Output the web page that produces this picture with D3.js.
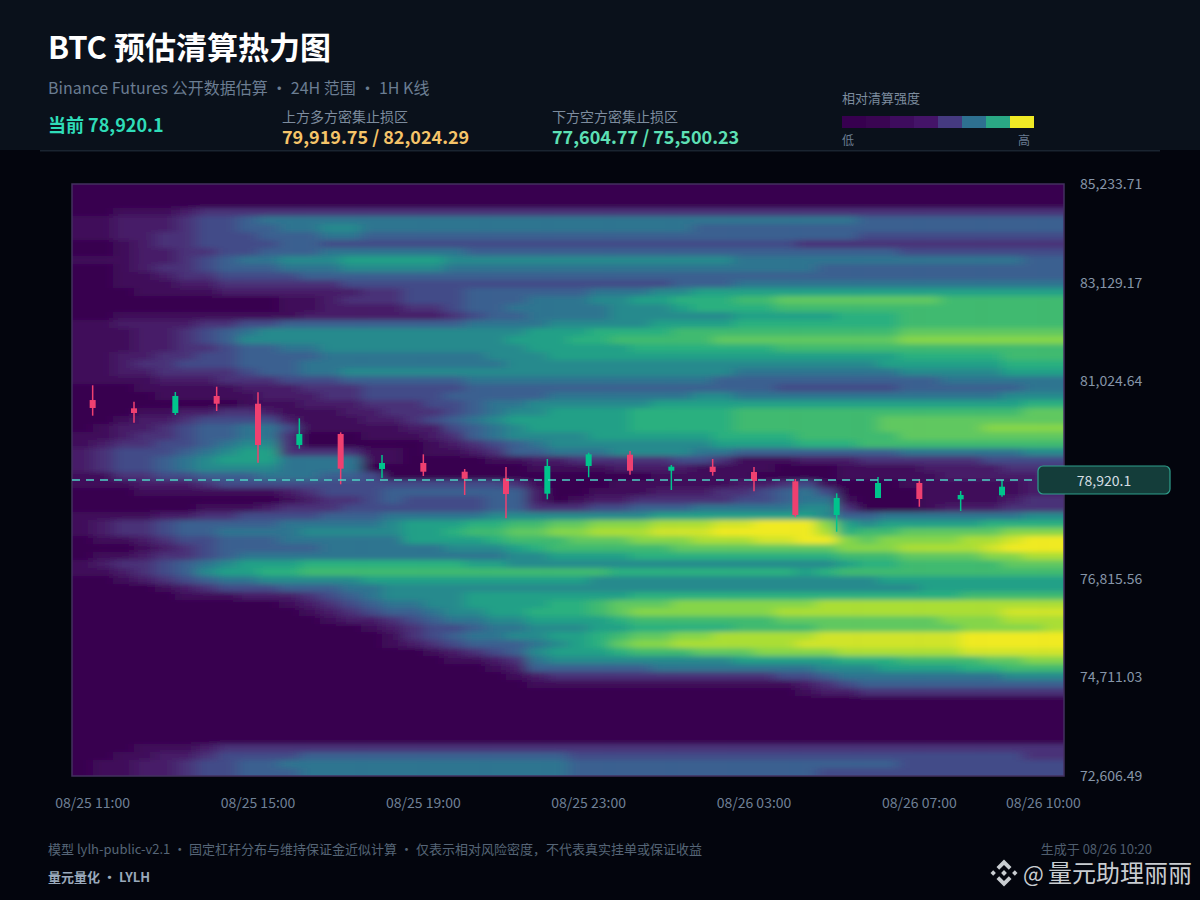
<!DOCTYPE html>
<html>
<head>
<meta charset="utf-8">
<title>BTC 预估清算热力图</title>
<script src="https://cdnjs.cloudflare.com/ajax/libs/d3/7.8.5/d3.min.js"></script>
<style>
  html, body { margin: 0; padding: 0; background: #03050d; }
  svg { display: block; }
  text { font-family: "Noto Sans CJK SC", "Noto Sans", sans-serif; }
</style>
</head>
<body>
<div id="chart"></div>
<script>
// hourly candles
const hours = ["08/25 11:00","08/25 12:00","08/25 13:00","08/25 14:00","08/25 15:00","08/25 16:00","08/25 17:00","08/25 18:00",
  "08/25 19:00","08/25 20:00","08/25 21:00","08/25 22:00","08/25 23:00","08/26 00:00","08/26 01:00","08/26 02:00",
  "08/26 03:00","08/26 04:00","08/26 05:00","08/26 06:00","08/26 07:00","08/26 08:00","08/26 09:00","08/26 10:00"];
const hourTicks = ["08/25 11:00","08/25 15:00","08/25 19:00","08/25 23:00","08/26 03:00","08/26 07:00","08/26 10:00"];
const opens  = [80626,80449,80349,80712,80547,79667,79901,79155,79283,79097,78956,78628,79219,79460,79118,79204,79091,78892,78173,78536,78856,78508,78594,78777];
const closes = [80456,80349,80712,80547,79667,79901,79161,79283,79097,78948,78621,79219,79468,79118,79204,79091,78899,78173,78536,78856,78515,78600,78777,78920];
const highs  = [80940,80590,80797,80910,80791,80236,79937,79453,79468,79155,79197,79368,79502,79539,79240,79368,79197,78941,78636,78984,78941,78685,78920,78960];
const lows   = [80292,80142,80306,80392,79289,79588,78828,78963,79005,78600,78103,78508,78978,79033,78707,79012,78679,78131,77817,78536,78350,78259,78564,78740];

// the 78,920.10 tick sits under the current price tag, so it is left out
const priceTicks = [85233.71, 83129.17, 81024.64, 76815.56, 74711.03, 72606.49];
const priceTop = 85233.71, priceBottom = 72606.49;
const currentPrice = 78920.1;

// relative intensity, hex digit per cell, one string per price row (top to bottom), 48 half hour columns
const heatRows = [
"00000000 00000000 00000000 00000000 00000000 00000000",
"00000000 00000000 00000000 00000000 00000000 00000000",
"00000000 00000000 00000000 00000000 00000000 00000000",
"00111233 33333333 33333333 33333333 33333333 33333333",
"11222344 56666666 66666666 66666666 66666655 55555555",
"11222344 55667766 66666666 66666655 55555555 55555555",
"11223344 45556655 55555555 55555555 55555544 44444444",
"00123344 44554444 44444444 44444444 44433333 33333333",
"00122334 45556666 66655555 55555555 55555555 44444444",
"11122345 66777888 88777777 77777777 66666666 66666655",
"00123345 55666777 77666666 66666666 66665555 55555555",
"00112334 44455555 55555555 55555555 55555555 55555555",
"00111223 33333444 44444444 44444555 66666666 66666666",
"00011112 22222233 44455555 56667788 88888888 88888888",
"00000000 00112333 44455566 67788999 aabbbbbb bbaaaaaa",
"00000000 00112222 33455666 66777899 99aaaaaa aaaaaaaa",
"00111111 11122222 22345566 66777777 88888999 aaaaaaaa",
"11222233 44555555 55566667 77778888 99999999 aaaaaaaa",
"11122345 67777777 77777788 89999aaa aaaaaaaa bbbbbbbb",
"11122345 77777777 77777888 99aaaaab bbbbbbbb cccccccc",
"11122334 55667777 77777788 88899999 99aaaaaa aaaaaaaa",
"11223344 55556666 66667778 88888888 88888888 99999aaa",
"11233444 55566666 66666777 77777777 77777778 88888999",
"11223333 45566777 77777777 77777777 66666666 77777888",
"11112223 33444555 55566666 66666665 55555555 55666666",
"00011111 22233344 44455555 55555555 55444444 55555566",
"00001111 12223344 44555556 66666677 66666666 66666777",
"00000000 11122233 34456677 77778888 88888888 88888899",
"00011223 32111223 33456778 88899999 aaaaaaaa aaaaaabb",
"00122344 44211122 34567888 88899999 aaaaaaab bbbbbbbb",
"01223455 66411111 22456788 88899999 aaaaaaab bbbbcccc",
"11233455 66300011 12356777 78888889 999aaaaa bbbbbbbb",
"12334456 77300000 01234567 77777778 888999aa aaaaaaaa",
"23444567 88333311 01123556 66777766 55555555 66666677",
"23445678 88666611 00001122 33333443 11122233 33334444",
"23445677 77666600 00000011 11222211 11000111 12222333",
"11334455 56665540 00000000 00001111 10000111 11222223",
"11122234 44444444 44444310 00111111 22341000 11111122",
"00011111 11234445 55555520 01112223 34564000 01111122",
"00000000 00123345 44445520 12233333 44566100 01111233",
"00000011 12333444 44445533 34455566 66677300 01222333",
"11112233 44445556 66667777 77778888 88887556 66666677",
"12334555 55666667 88899aab bcccddde efffc878 88889999",
"12334556 66677777 889aabbc cdddeeef ffffd9aa bbbbbccc",
"01123445 55666666 88889aaa bbbcccdd deeffcbc cccddeff",
"00012345 55556666 6677789a aaaaabbb bbbbbccc ddddefff",
"01123345 66666666 66666778 88899999 99999aaa bbbbccdd",
"12334567 88899999 99988777 77777777 77777899 aaaaabbb",
"11234578 899aaaaa aaaaaaaa aa999999 99989aaa aaaaaaaa",
"00123456 67777788 88888888 87777777 77777778 88888888",
"00001234 44555667 77777777 77777777 77777777 78888888",
"00000111 22234567 77788888 88899999 99999999 999aaaaa",
"00000000 00123456 67788889 9abbbccc ccccdddd dddddddd",
"00000000 00012345 56778899 9abccccc ccdddddd dddddeee",
"00000000 00001223 45667788 889aaaaa aabbbbbb bbcccddd",
"00000000 00000012 34456677 78899999 aaaabbbb bbbccccd",
"00000000 00000001 34566778 89abbccd ddddeeee eeefffff",
"00000000 00000001 23455567 89bccddd dddeeeee eeefffff",
"00000000 00000000 01234578 889aaabb bccccddd dddeeeee",
"00000000 00000000 00112367 77777777 88888999 aaaabbcc",
"00000000 00000000 00001255 55556666 66667778 88899aaa",
"00000000 00000000 00000123 33333333 33445666 66666777",
"00000000 00000000 00000011 11111111 11123455 55555555",
"00000000 00000000 00000000 00000000 00012233 33333333",
"00000000 00000000 00000000 00000000 00000000 00000000",
"00000000 00000000 00000000 00000000 00000000 00000000",
"00000000 00000000 00000000 00000000 00000000 00000000",
"00000000 00000000 00000000 00000000 00000000 00000000",
"00000000 00000000 00000000 00000000 00000000 00000000",
"00000000 00000000 00000000 00000000 00000000 00000000",
"00011123 33333333 33333333 33333333 33333333 33333333",
"00112234 44455555 55555555 44444444 44444444 44444433",
"01122344 55666666 66666666 55555555 55555555 44444444",
"01122344 55566666 66666666 55555555 55554444 44444444"
];

const heatColors = ["#38004f","#3f0d5a","#461a68","#483278","#434b88","#3a6090","#2f7590","#278a8d",
  "#20a087","#2ab07f","#40ba70","#60c860","#85d548","#aade35","#d0e42a","#f0ea22"];
const legendColors = ["#37004f","#3a0552","#3e0c5e","#441468","#453a80","#2e7090","#2aa884","#f0ea25"];

const width = 1200, height = 900;
const plot = {left: 72, right: 1064, top: 184, bottom: 776};

const svg = d3.select("#chart").append("svg")
  .attr("width", width)
  .attr("height", height);

svg.append("rect").attr("width", width).attr("height", height).attr("fill", "#03050d");
svg.append("rect").attr("width", width).attr("height", 150).attr("fill", "#0a111b");
svg.append("rect").attr("x", 40).attr("y", 150).attr("width", 1120).attr("height", 1.5).attr("fill", "#1a2430");

// header
function label(x, y, str, size, color, weight, anchor) {
  return svg.append("text")
    .attr("x", x).attr("y", y)
    .attr("font-size", size)
    .attr("fill", color)
    .attr("font-weight", weight || 400)
    .attr("text-anchor", anchor || "start")
    .text(str);
}
label(48, 59, "BTC 预估清算热力图", 31, "#ffffff", 700);
label(48, 94, "Binance Futures 公开数据估算 ・ 24H 范围 ・ 1H K线", 16, "#6b7d92");
label(48, 132, "当前 78,920.1", 18, "#2fdcb8", 700);
label(282, 122, "上方多方密集止损区", 14, "#7d8c9e");
label(282, 144, "79,919.75 / 82,024.29", 18, "#f5c469", 700);
label(552, 122, "下方空方密集止损区", 14, "#7d8c9e");
label(552, 144, "77,604.77 / 75,500.23", 18, "#5de0b5", 700);
label(842, 103, "相对清算强度", 13, "#7d8c9e");
label(842, 145, "低", 12, "#6b7d92");
label(1030, 145, "高", 12, "#6b7d92", 400, "end");

const legendX = d3.scaleBand().domain(d3.range(legendColors.length)).range([842, 1034]);
svg.append("g").selectAll("rect")
  .data(legendColors)
  .join("rect")
  .attr("x", (d, i) => legendX(i))
  .attr("y", 116)
  .attr("width", legendX.bandwidth())
  .attr("height", 12)
  .attr("fill", d => d);

// scales
const xScale = d3.scaleBand().domain(hours).range([plot.left, plot.right]);
const yScale = d3.scaleLinear().domain([priceBottom, priceTop]).range([plot.bottom, plot.top]);

const cols = heatRows[0].replace(/ /g, "").length;
const cellX = d3.scaleBand().domain(d3.range(cols)).range([plot.left, plot.right]);
const cellY = d3.scaleBand().domain(d3.range(heatRows.length)).range([plot.top, plot.bottom]);
const color = d3.scaleLinear().domain(d3.range(heatColors.length)).range(heatColors);

const cells = [];
heatRows.forEach((row, r) => {
  row.replace(/ /g, "").split("").forEach((ch, c) => {
    cells.push({r: r, c: c, v: parseInt(ch, 16)});
  });
});

const defs = svg.append("defs");
defs.append("clipPath").attr("id", "clip")
  .append("rect")
  .attr("x", plot.left).attr("y", plot.top)
  .attr("width", plot.right - plot.left).attr("height", plot.bottom - plot.top);
const blur = defs.append("filter").attr("id", "soft")
  .attr("filterUnits", "userSpaceOnUse")
  .attr("x", 0).attr("y", 0).attr("width", width).attr("height", height);
blur.append("feGaussianBlur").attr("stdDeviation", "7 2.5");

// heat cells, outer ones run past the plot so the blur does not fade at the edge
const edge = 14;
svg.append("g").attr("clip-path", "url(#clip)")
  .append("g").attr("filter", "url(#soft)")
  .selectAll("rect")
  .data(cells)
  .join("rect")
  .attr("x", d => cellX(d.c) - (d.c === 0 ? edge : 0))
  .attr("y", d => cellY(d.r) - (d.r === 0 ? edge : 0))
  .attr("width", d => cellX.bandwidth() + 0.5 + (d.c === 0 || d.c === cols - 1 ? edge : 0))
  .attr("height", d => cellY.bandwidth() + 0.5 + (d.r === 0 || d.r === heatRows.length - 1 ? edge : 0))
  .attr("fill", d => color(d.v));

svg.append("rect")
  .attr("x", plot.left).attr("y", plot.top)
  .attr("width", plot.right - plot.left).attr("height", plot.bottom - plot.top)
  .attr("fill", "none")
  .attr("stroke", "#43305f")
  .attr("stroke-width", 1.5);

// candles
const candles = hours.map((h, i) => ({h: h, o: opens[i], c: closes[i], hi: highs[i], lo: lows[i]}));
const candleColor = d => d.c >= d.o ? "#00c48c" : "#ef4070";
const candleG = svg.append("g").selectAll("g")
  .data(candles)
  .join("g")
  .attr("transform", d => `translate(${xScale(d.h) + xScale.bandwidth() / 2},0)`);
candleG.append("line")
  .attr("y1", d => yScale(d.hi))
  .attr("y2", d => yScale(d.lo))
  .attr("stroke", candleColor)
  .attr("stroke-width", 1.5);
candleG.append("rect")
  .attr("x", -3)
  .attr("width", 6)
  .attr("y", d => yScale(Math.max(d.o, d.c)))
  .attr("height", d => Math.abs(yScale(d.o) - yScale(d.c)))
  .attr("fill", candleColor);

// current price
svg.append("line")
  .attr("x1", plot.left).attr("x2", 1038)
  .attr("y1", yScale(currentPrice)).attr("y2", yScale(currentPrice))
  .attr("stroke", "#4fd1c5")
  .attr("stroke-width", 1.5)
  .attr("stroke-dasharray", "8 6");
svg.append("rect")
  .attr("x", 1038).attr("y", yScale(currentPrice) - 14)
  .attr("width", 132).attr("height", 28)
  .attr("rx", 5)
  .attr("fill", "#143d3a")
  .attr("stroke", "#2f9f8c")
  .attr("stroke-width", 1.2);
label(1104, yScale(currentPrice) + 6, d3.format(",")(currentPrice), 14, "#d5dfe4", 400, "middle");

// axes
const yAxis = d3.axisRight(yScale).tickValues(priceTicks).tickSize(0).tickPadding(0).tickFormat(d3.format(",.2f"));
const xAxis = d3.axisBottom(xScale).tickValues(hourTicks).tickSize(0).tickPadding(0);

svg.append("g")
  .attr("transform", "translate(1080,0)")
  .call(yAxis)
  .call(g => g.select(".domain").remove())
  .selectAll("text")
  .attr("font-size", 14)
  .attr("font-family", "'Noto Sans CJK SC'")
  .attr("fill", "#8695a8");

svg.append("g")
  .attr("transform", "translate(0,798)")
  .call(xAxis)
  .call(g => g.select(".domain").remove())
  .selectAll("text")
  .attr("font-size", 14)
  .attr("font-family", "'Noto Sans CJK SC'")
  .attr("fill", "#6f8096");

// footer
label(48, 854, "模型 lylh-public-v2.1 ・ 固定杠杆分布与维持保证金近似计算 ・ 仅表示相对风险密度，不代表真实挂单或保证收益", 13, "#566577");
label(48, 882, "量元量化 ・ LYLH", 13, "#9aa9bb", 700);
label(1152, 854, "生成于 08/26 10:20", 13, "#4f5e6f", 400, "end");

// watermark
const logo = svg.append("g").attr("transform", "translate(1004,873)").attr("fill", "#c9cdd1");
logo.append("path").attr("d", "M0,-13.5 L7.5,-6 L4.8,-3.3 L0,-8.1 L-4.8,-3.3 L-7.5,-6 Z");
logo.append("path").attr("d", "M0,13.5 L7.5,6 L4.8,3.3 L0,8.1 L-4.8,3.3 L-7.5,6 Z");
logo.append("path").attr("d", "M-13.5,0 L-10.8,-2.7 L-8.1,0 L-10.8,2.7 Z");
logo.append("path").attr("d", "M13.5,0 L10.8,-2.7 L8.1,0 L10.8,2.7 Z");
logo.append("path").attr("d", "M0,-2.9 L2.9,0 L0,2.9 L-2.9,0 Z");
label(1023, 882, "@", 22, "#c9cdd1");
label(1048, 882, "量元助理丽丽", 24, "#c9cdd1");
</script>
</body>
</html>
